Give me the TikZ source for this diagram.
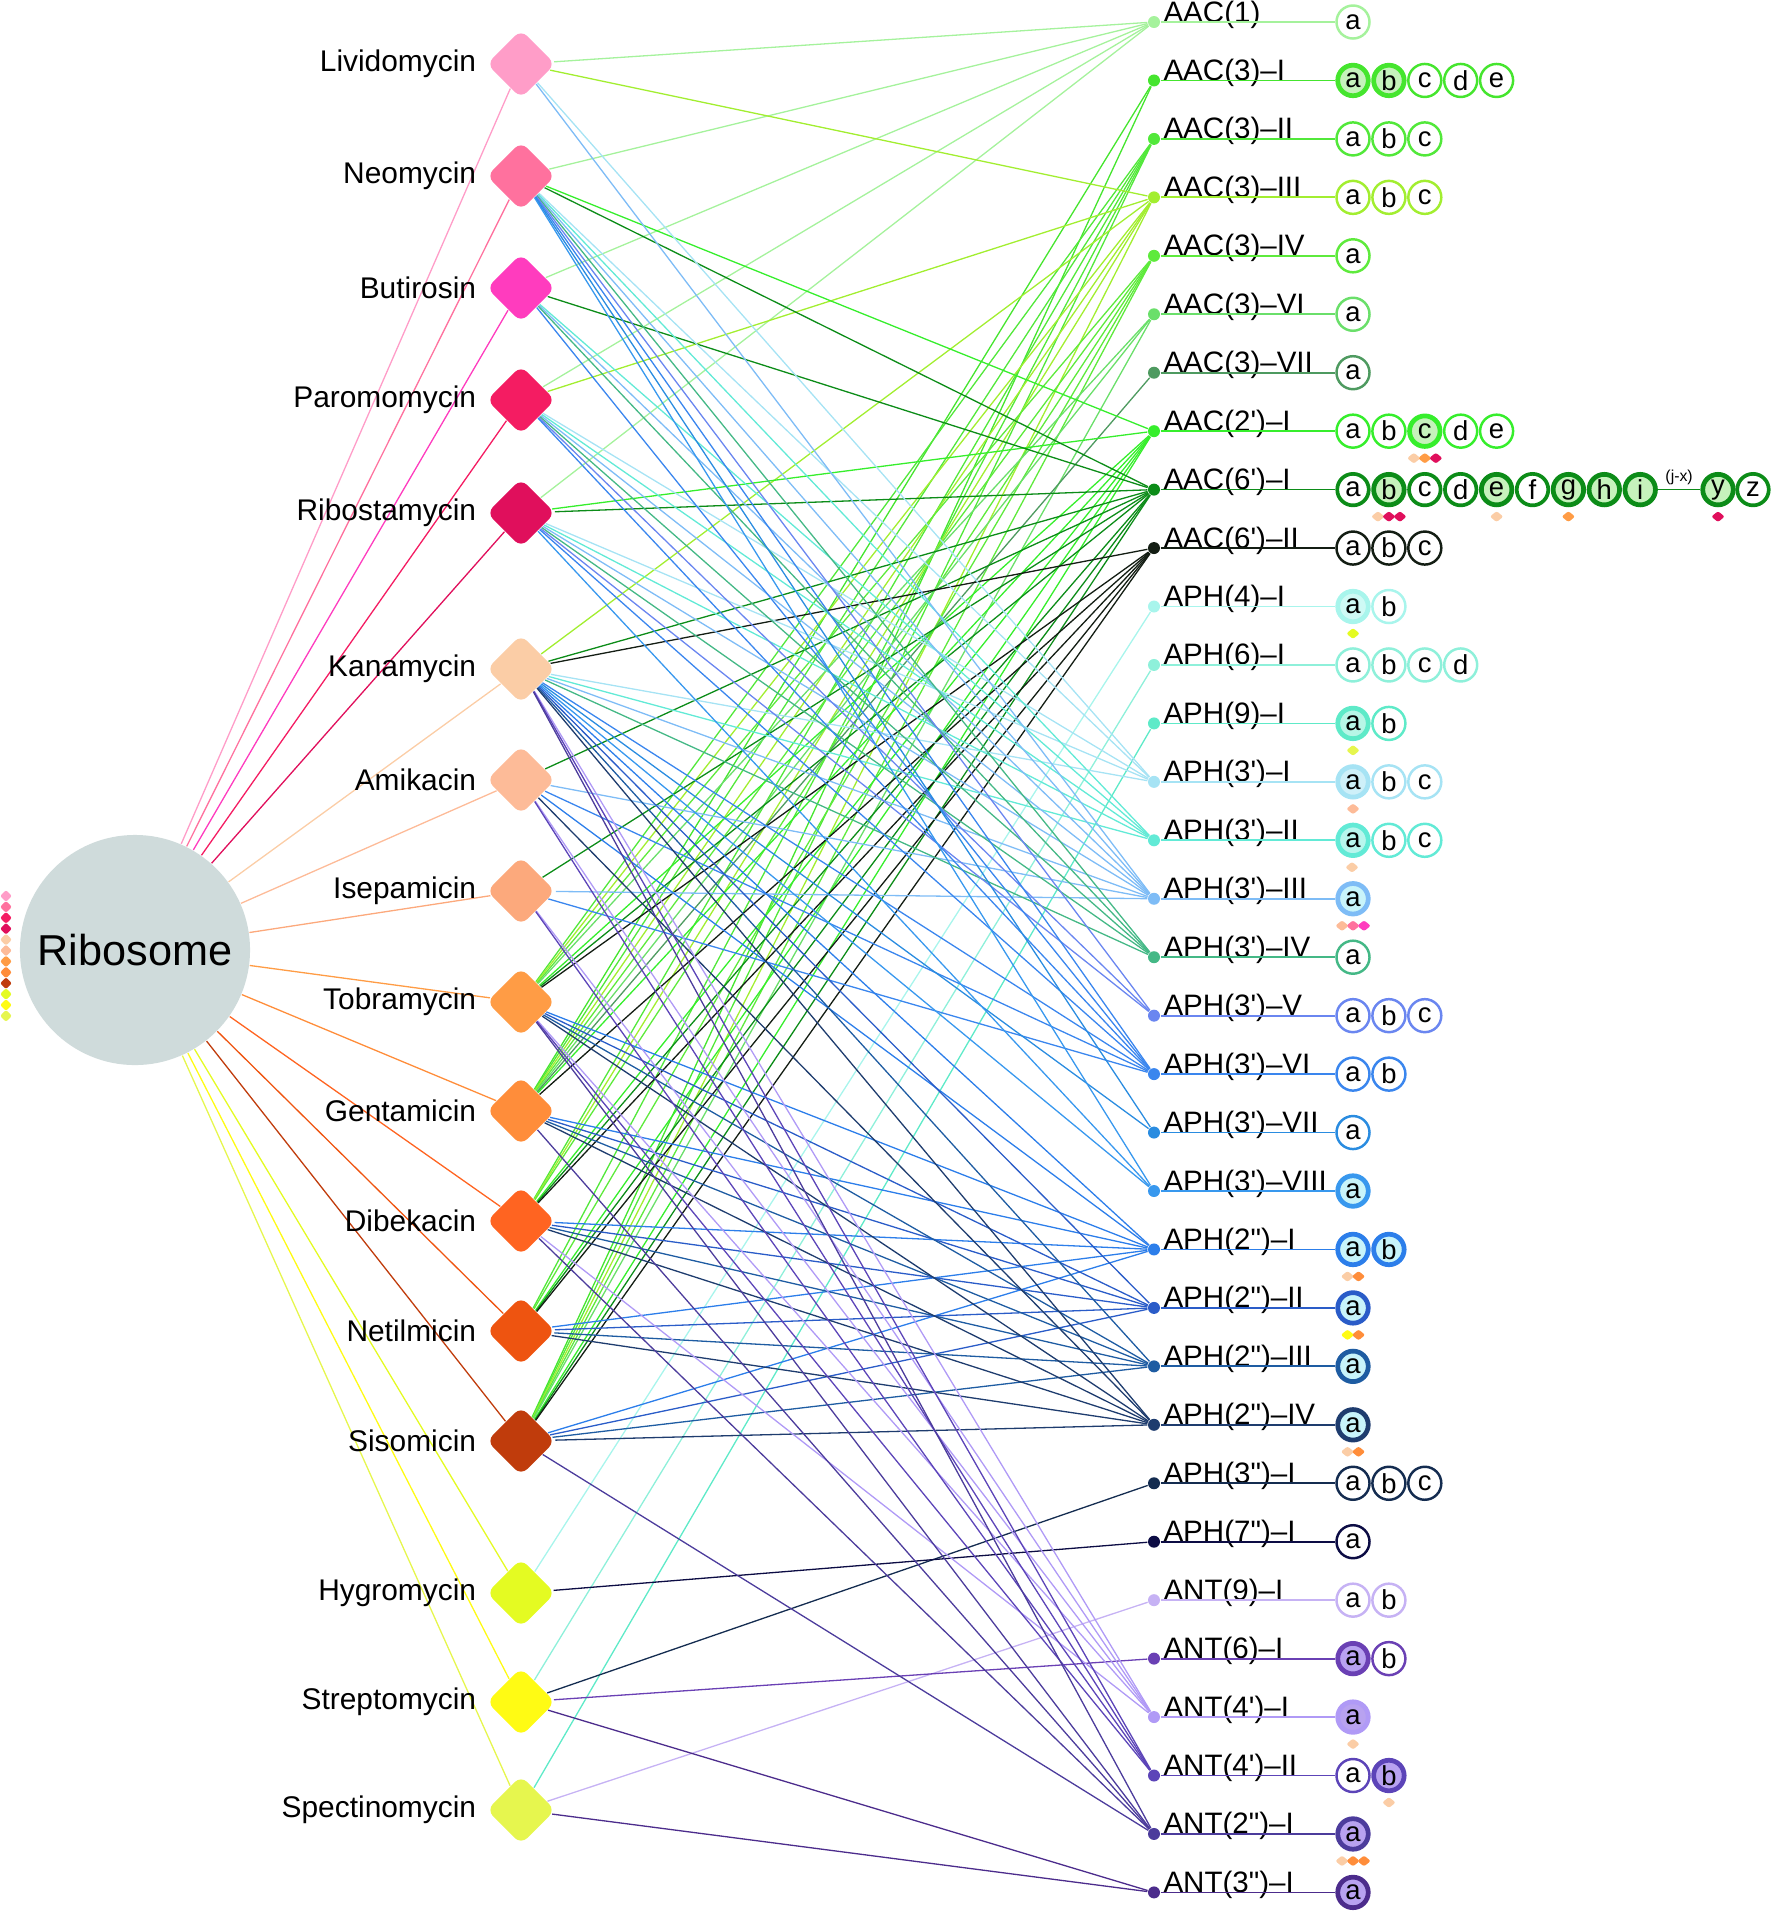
\documentclass[tikz,border=0pt]{standalone}
\usepackage{fontspec}
\newfontfamily\labfont{Liberation Sans}
\usetikzlibrary{shapes.geometric, positioning, calc, backgrounds}

%% antibiotics
\definecolor{liv}{HTML}{FF9DC8}
\definecolor{neo}{HTML}{FF719E}
\definecolor{but}{HTML}{FF3CBE}
\definecolor{par}{HTML}{F41C62}
\definecolor{rib}{HTML}{E00F5C}
\definecolor{kan}{HTML}{FBCDA6}
\definecolor{ami}{HTML}{FDBB98}
\definecolor{ise}{HTML}{FCA97C}
\definecolor{tob}{HTML}{FF9C45}
\definecolor{gen}{HTML}{FF8D3A}
\definecolor{dib}{HTML}{FF6421}
\definecolor{net}{HTML}{EE5410}
\definecolor{sis}{HTML}{C03C0C}
\definecolor{hyg}{HTML}{E4FB22}
\definecolor{str}{HTML}{FFFB14}
\definecolor{spe}{HTML}{E6F64E}
%% enzymes
\definecolor{aac1}{HTML}{A5F29C}
\definecolor{aac3I}{HTML}{45E52E}
\definecolor{aac3II}{HTML}{52E83A}
\definecolor{aac3III}{HTML}{A2EE30}
\definecolor{aac3IV}{HTML}{5EEA3C}
\definecolor{aac3VI}{HTML}{6ADF6A}
\definecolor{aac3VII}{HTML}{4E9A60}
\definecolor{aac2pI}{HTML}{36EE2C}
\definecolor{aac6pI}{HTML}{0C8C18}
\definecolor{aac6pII}{HTML}{131D13}
\definecolor{aph4I}{HTML}{A8F5EC}
\definecolor{aph6I}{HTML}{8EF0DA}
\definecolor{aph9I}{HTML}{5EEAC8}
\definecolor{aph3pI}{HTML}{A6E3F4}
\definecolor{aph3pII}{HTML}{62EAD6}
\definecolor{aph3pIII}{HTML}{7EBCF6}
\definecolor{aph3pIV}{HTML}{44B886}
\definecolor{aph3pV}{HTML}{6A86F0}
\definecolor{aph3pVI}{HTML}{3A86EE}
\definecolor{aph3pVII}{HTML}{2A8CE0}
\definecolor{aph3pVIII}{HTML}{3898EE}
\definecolor{aph2ppI}{HTML}{2C7EEA}
\definecolor{aph2ppII}{HTML}{2A5CC8}
\definecolor{aph2ppIII}{HTML}{1E5CA2}
\definecolor{aph2ppIV}{HTML}{1E3C6E}
\definecolor{aph3ppI}{HTML}{142C50}
\definecolor{aph7ppI}{HTML}{0C0C44}
\definecolor{ant9I}{HTML}{C6B2F4}
\definecolor{ant6I}{HTML}{6A40B4}
\definecolor{ant4pI}{HTML}{B09AF6}
\definecolor{ant4pII}{HTML}{5C44B8}
\definecolor{ant2ppI}{HTML}{4C3C9C}
\definecolor{ant3ppI}{HTML}{4C2C8C}
%% misc
\definecolor{riboC}{HTML}{CFDBDB}
\definecolor{greenfill}{HTML}{C6F2BC}
\definecolor{cyanfill}{HTML}{C8F4FA}
\definecolor{lilac}{HTML}{B8A2F0}

% row of subtype rings right of an enzyme dot
\newcommand{\subtypes}[4]{%
  \colorlet{rowfill}{#3}%
  \foreach \sub/\kind [count=\k from 0] in {#4}
    \node[subring=#2, \kind] (#1-\sub) at ($(#1)+(199+35.9*\k,0)$) {\sub};
  \draw[stub=#2] (#1) -- (#1-a);
}
% small antibiotic diamonds under a ring
\newcommand{\subtags}[3]{%
  \foreach \col [count=\k from 0] in {#3}
    \node[hitmark=\col] (#1-m\k) at ($(#1)+(#2+11*\k,27)$) {};
}

\tikzset{
  abx/.style={diamond, aspect=1, fill=#1, minimum size=0.69cm,
              inner sep=0pt, rounded corners=2.5pt},
  alab/.style={inner sep=0pt, font=\labfont\fontsize{8.5}{10}\selectfont},
  enz/.style={circle, fill=#1, minimum size=0.12cm, inner sep=0pt},
  elab/.style={anchor=base west, inner sep=0.6pt,
               font=\labfont\fontsize{8.4}{10}\selectfont},
  subring/.style={circle, draw=#1, fill=white, line width=0.7pt,
                  minimum size=0.33cm, inner sep=0pt,
                  font=\labfont\fontsize{7.8}{9}\selectfont},
  pl/.style={},
  md/.style={line width=1.05pt, minimum size=0.315cm},
  hl/.style={line width=1.35pt, minimum size=0.305cm, fill=rowfill},
  hitmark/.style={diamond, aspect=1.2, fill=#1, minimum width=0.14cm,
                  minimum height=0.115cm, inner sep=0pt, rounded corners=0.6pt},
  keyd/.style={diamond, aspect=1, fill=#1, minimum size=0.125cm,
               inner sep=0pt, rounded corners=0.6pt},
  bond/.style={draw=#1, line width=0.37pt},
  stub/.style={draw=#1, line width=0.5pt},
  ribosome/.style={circle, fill=riboC, minimum size=2.3cm, inner sep=0pt,
                   font=\labfont\fontsize{12.3}{14}\selectfont},
  jx/.style={above, inner sep=1pt, font=\labfont\fontsize{4.5}{5}\selectfont},
}

\begin{document}
\begin{tikzpicture}[x=0.01cm, y=-0.01cm]
  \useasboundingbox (0,0) rectangle (1772,1911);

  %% Ribosome and colour key
  \node[ribosome] (ribo) at (135,950) {Ribosome};
  \foreach \col [count=\k from 0] in {liv,neo,par,rib,kan,ami,tob,gen,sis,hyg,str,spe}
    \node[keyd=\col] (key\k) at (6,896+10.9*\k) {};

  %% Antibiotics
  \foreach \nm/\txt/\y in {liv/Lividomycin/64, neo/Neomycin/176, but/Butirosin/288,
      par/Paromomycin/400, rib/Ribostamycin/513, kan/Kanamycin/669, ami/Amikacin/780,
      ise/Isepamicin/891, tob/Tobramycin/1002, gen/Gentamicin/1111, dib/Dibekacin/1221,
      net/Netilmicin/1331, sis/Sisomicin/1441, hyg/Hygromycin/1593,
      str/Streptomycin/1702, spe/Spectinomycin/1810}
  {
    \node[abx=\nm] (\nm) at (521,\y) {};
    \node[alab, left=0.09cm of \nm] (\nm-t) {\txt};
  }

  %% Enzymes
  \foreach \nm/\txt [count=\i from 0] in {aac1/AAC(1), aac3I/AAC(3)–I,
      aac3II/AAC(3)–II, aac3III/AAC(3)–III, aac3IV/AAC(3)–IV, aac3VI/AAC(3)–VI,
      aac3VII/AAC(3)–VII, aac2pI/AAC(2')–I, aac6pI/AAC(6')–I, aac6pII/AAC(6')–II,
      aph4I/APH(4)–I, aph6I/APH(6)–I, aph9I/APH(9)–I, aph3pI/APH(3')–I,
      aph3pII/APH(3')–II, aph3pIII/APH(3')–III, aph3pIV/APH(3')–IV,
      aph3pV/APH(3')–V, aph3pVI/APH(3')–VI, aph3pVII/APH(3')–VII,
      aph3pVIII/APH(3')–VIII, aph2ppI/APH(2")–I, aph2ppII/APH(2")–II,
      aph2ppIII/APH(2")–III, aph2ppIV/APH(2")–IV, aph3ppI/APH(3")–I,
      aph7ppI/APH(7")–I, ant9I/ANT(9)–I, ant6I/ANT(6)–I, ant4pI/ANT(4')–I,
      ant4pII/ANT(4')–II, ant2ppI/ANT(2")–I, ant3ppI/ANT(3")–I}
  {
    \node[enz=\nm] (\nm) at (1154,22+58.45*\i) {};
    \node[elab] (\nm-t) at (\nm.east) {\txt};
  }

  %% Subtype rings
  \subtypes{aac1}{aac1}{white}{a/pl}
  \subtypes{aac3I}{aac3I}{greenfill}{a/hl,b/hl,c/pl,d/pl,e/pl}
  \subtypes{aac3II}{aac3II}{white}{a/pl,b/pl,c/pl}
  \subtypes{aac3III}{aac3III}{white}{a/pl,b/pl,c/pl}
  \subtypes{aac3IV}{aac3IV}{white}{a/pl}
  \subtypes{aac3VI}{aac3VI}{white}{a/pl}
  \subtypes{aac3VII}{aac3VII}{white}{a/pl}
  \subtypes{aac2pI}{aac2pI}{greenfill}{a/pl,b/pl,c/hl,d/pl,e/pl}
  \subtypes{aac6pI}{aac6pI}{greenfill}{a/md,b/hl,c/md,d/md,e/hl,f/md,g/hl,h/hl,i/hl}
  \node[subring=aac6pI, hl] (aac6pI-y) at ($(aac6pI)+(564,0)$) {y};
  \node[subring=aac6pI, md] (aac6pI-z) at ($(aac6pI)+(599,0)$) {z};
  \draw[stub=aac6pI] (aac6pI-i) -- node[jx] (aac6pI-jx) {(j-x)} (aac6pI-y);
  \subtypes{aac6pII}{aac6pII}{white}{a/pl,b/pl,c/pl}
  \subtypes{aph4I}{aph4I}{aph4I!55}{a/hl,b/pl}
  \subtypes{aph6I}{aph6I}{white}{a/pl,b/pl,c/pl,d/pl}
  \subtypes{aph9I}{aph9I}{aph9I!45}{a/hl,b/pl}
  \subtypes{aph3pI}{aph3pI}{aph3pI!55}{a/hl,b/pl,c/pl}
  \subtypes{aph3pII}{aph3pII}{aph3pII!45}{a/hl,b/pl,c/pl}
  \subtypes{aph3pIII}{aph3pIII}{cyanfill}{a/hl}
  \subtypes{aph3pIV}{aph3pIV}{white}{a/pl}
  \subtypes{aph3pV}{aph3pV}{white}{a/pl,b/pl,c/pl}
  \subtypes{aph3pVI}{aph3pVI}{white}{a/pl,b/pl}
  \subtypes{aph3pVII}{aph3pVII}{white}{a/pl}
  \subtypes{aph3pVIII}{aph3pVIII}{cyanfill}{a/hl}
  \subtypes{aph2ppI}{aph2ppI}{cyanfill}{a/hl,b/hl}
  \subtypes{aph2ppII}{aph2ppII}{cyanfill}{a/hl}
  \subtypes{aph2ppIII}{aph2ppIII}{cyanfill}{a/hl}
  \subtypes{aph2ppIV}{aph2ppIV}{cyanfill}{a/hl}
  \subtypes{aph3ppI}{aph3ppI}{white}{a/pl,b/pl,c/pl}
  \subtypes{aph7ppI}{aph7ppI}{white}{a/pl}
  \subtypes{ant9I}{ant9I}{white}{a/pl,b/pl}
  \subtypes{ant6I}{ant6I}{lilac}{a/hl,b/pl}
  \subtypes{ant4pI}{ant4pI}{lilac}{a/hl}
  \subtypes{ant4pII}{ant4pII}{lilac}{a/pl,b/hl}
  \subtypes{ant2ppI}{ant2ppI}{lilac}{a/hl}
  \subtypes{ant3ppI}{ant3ppI}{lilac}{a/hl}

  %% Antibiotic marks under rings
  \subtags{aac2pI-c}{-11}{kan,tob,rib}
  \subtags{aac6pI-b}{-11}{kan,rib,rib}
  \subtags{aac6pI-e}{0}{kan}
  \subtags{aac6pI-g}{0}{tob}
  \subtags{aac6pI-y}{0}{rib}
  \subtags{aph4I-a}{0}{hyg}
  \subtags{aph9I-a}{0}{spe}
  \subtags{aph3pI-a}{0}{ami}
  \subtags{aph3pII-a}{-1}{kan}
  \subtags{aph3pIII-a}{-11}{ami,neo,but}
  \subtags{aph2ppI-a}{-5.5}{kan,gen}
  \subtags{aph2ppII-a}{-5.5}{str,gen}
  \subtags{aph2ppIV-a}{-5.5}{kan,gen}
  \subtags{ant4pI-a}{0}{kan}
  \subtags{ant4pII-b}{0}{kan}
  \subtags{ant2ppI-a}{-11}{kan,gen,gen}

  %% Connectors
  \begin{scope}[on background layer]
    \foreach \ab in {liv,neo,but,par,rib,kan,ami,ise,tob,gen,dib,net,sis,hyg,str,spe}
      \draw[bond=\ab] (ribo) -- (\ab);
    \foreach \ab/\en in {liv/aac1, neo/aac1, but/aac1, par/aac1, rib/aac1,
        gen/aac3I, sis/aac3I,
        tob/aac3II, gen/aac3II, dib/aac3II, net/aac3II, sis/aac3II,
        liv/aac3III, par/aac3III, kan/aac3III, tob/aac3III, gen/aac3III, dib/aac3III, sis/aac3III,
        tob/aac3IV, gen/aac3IV, dib/aac3IV, net/aac3IV, sis/aac3IV,
        tob/aac3VI, gen/aac3VI, sis/aac3VI,
        gen/aac3VII,
        neo/aac2pI, rib/aac2pI, tob/aac2pI, gen/aac2pI, dib/aac2pI, net/aac2pI, sis/aac2pI,
        neo/aac6pI, but/aac6pI, rib/aac6pI, kan/aac6pI, ami/aac6pI, ise/aac6pI,
        tob/aac6pI, dib/aac6pI, net/aac6pI, sis/aac6pI,
        kan/aac6pII, tob/aac6pII, gen/aac6pII, dib/aac6pII, net/aac6pII, sis/aac6pII,
        hyg/aph4I, str/aph6I, spe/aph9I,
        liv/aph3pI, neo/aph3pI, par/aph3pI, rib/aph3pI, kan/aph3pI,
        neo/aph3pII, but/aph3pII, par/aph3pII, rib/aph3pII, kan/aph3pII,
        liv/aph3pIII, neo/aph3pIII, but/aph3pIII, par/aph3pIII, rib/aph3pIII,
        kan/aph3pIII, ami/aph3pIII, ise/aph3pIII,
        neo/aph3pIV, but/aph3pIV, par/aph3pIV, rib/aph3pIV, kan/aph3pIV,
        neo/aph3pV, par/aph3pV, rib/aph3pV,
        neo/aph3pVI, but/aph3pVI, par/aph3pVI, rib/aph3pVI, kan/aph3pVI, ami/aph3pVI, ise/aph3pVI,
        neo/aph3pVII, kan/aph3pVII,
        neo/aph3pVIII, rib/aph3pVIII, kan/aph3pVIII,
        kan/aph2ppI, ami/aph2ppI, tob/aph2ppI, gen/aph2ppI, dib/aph2ppI, net/aph2ppI, sis/aph2ppI,
        kan/aph2ppII, tob/aph2ppII, gen/aph2ppII, dib/aph2ppII, net/aph2ppII, sis/aph2ppII,
        kan/aph2ppIII, tob/aph2ppIII, gen/aph2ppIII, dib/aph2ppIII, net/aph2ppIII, sis/aph2ppIII,
        kan/aph2ppIV, ami/aph2ppIV, tob/aph2ppIV, gen/aph2ppIV, dib/aph2ppIV, net/aph2ppIV, sis/aph2ppIV,
        str/aph3ppI, hyg/aph7ppI, spe/ant9I, str/ant6I,
        kan/ant4pI, ami/ant4pI, ise/ant4pI, tob/ant4pI, dib/ant4pI,
        kan/ant4pII, ami/ant4pII, ise/ant4pII, tob/ant4pII,
        kan/ant2ppI, tob/ant2ppI, gen/ant2ppI, dib/ant2ppI, sis/ant2ppI,
        str/ant3ppI, spe/ant3ppI}
      \draw[bond=\en] (\ab) -- (\en);
  \end{scope}

\end{tikzpicture}
\end{document}
